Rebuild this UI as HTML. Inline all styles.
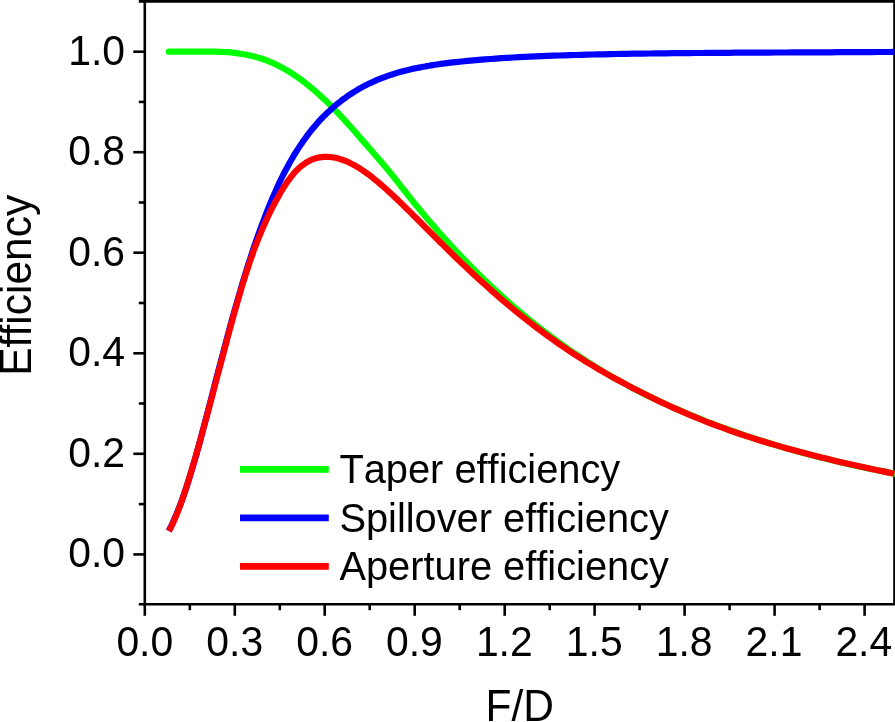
<!DOCTYPE html>
<html lang="en"><head><meta charset="utf-8"><title>Efficiency vs F/D</title>
<style>html,body{margin:0;padding:0;background:#fff;}body{width:895px;height:722px;overflow:hidden;}svg{display:block;}text{font-family:"Liberation Sans",sans-serif;fill:#000;}</style></head><body>
<svg width="895" height="722" viewBox="0 0 895 722">
<rect width="895" height="722" fill="#fff"/>
<g stroke="#000" stroke-width="2.6" fill="none">
<path d="M138.8,1.4 H894.5 V604.2 H138.8"/>
<path d="M144.8,1.4 V604.2" stroke-linecap="square"/>
<path d="M133.3,554.4 H144.8"/>
<path d="M138.8,504.1 H144.8"/>
<path d="M133.3,453.8 H144.8"/>
<path d="M138.8,403.5 H144.8"/>
<path d="M133.3,353.3 H144.8"/>
<path d="M138.8,303.0 H144.8"/>
<path d="M133.3,252.7 H144.8"/>
<path d="M138.8,202.5 H144.8"/>
<path d="M133.3,152.2 H144.8"/>
<path d="M138.8,101.9 H144.8"/>
<path d="M133.3,51.7 H144.8"/>
<path d="M144.8,604.2 V615.8"/>
<path d="M189.8,604.2 V610.2"/>
<path d="M234.8,604.2 V615.8"/>
<path d="M279.8,604.2 V610.2"/>
<path d="M324.7,604.2 V615.8"/>
<path d="M369.7,604.2 V610.2"/>
<path d="M414.7,604.2 V615.8"/>
<path d="M459.7,604.2 V610.2"/>
<path d="M504.7,604.2 V615.8"/>
<path d="M549.7,604.2 V610.2"/>
<path d="M594.6,604.2 V615.8"/>
<path d="M639.6,604.2 V610.2"/>
<path d="M684.6,604.2 V615.8"/>
<path d="M729.6,604.2 V610.2"/>
<path d="M774.6,604.2 V615.8"/>
<path d="M819.6,604.2 V610.2"/>
<path d="M864.6,604.2 V615.8"/>
</g>
<g fill="none" stroke-width="6.2" stroke-linejoin="round">
<path stroke="#00ff00" stroke-linecap="round" d="M168.8,51.7 L170.8,51.7 L172.8,51.7 L174.7,51.7 L176.7,51.7 L178.7,51.7 L180.7,51.7 L182.7,51.7 L184.7,51.7 L186.7,51.7 L188.6,51.7 L190.6,51.7 L192.6,51.7 L194.6,51.7 L196.6,51.7 L198.6,51.7 L200.6,51.7 L202.5,51.7 L204.5,51.7 L206.5,51.7 L208.5,51.7 L210.5,51.7 L212.5,51.7 L214.4,51.7 L216.4,51.7 L218.4,51.8 L220.4,51.8 L222.4,51.9 L224.4,52.0 L226.4,52.1 L228.3,52.2 L230.3,52.4 L232.3,52.6 L234.3,52.8 L236.3,53.1 L238.3,53.4 L240.3,53.7 L242.2,54.0 L244.2,54.3 L246.2,54.7 L248.2,55.1 L250.2,55.5 L252.2,56.0 L254.1,56.5 L256.1,57.0 L258.1,57.6 L260.1,58.2 L262.1,58.8 L264.1,59.5 L266.1,60.2 L268.0,61.0 L270.0,61.8 L272.0,62.6 L274.0,63.5 L276.0,64.4 L278.0,65.4 L279.9,66.4 L281.9,67.5 L283.9,68.6 L285.9,69.7 L287.9,70.9 L289.9,72.1 L291.9,73.4 L293.8,74.7 L295.8,76.0 L297.8,77.4 L299.8,78.8 L301.8,80.3 L303.8,81.8 L305.8,83.3 L307.7,84.9 L309.7,86.5 L311.7,88.1 L313.7,89.8 L315.7,91.5 L317.7,93.3 L319.6,95.0 L321.6,96.9 L323.6,98.7 L325.6,100.6 L327.6,102.5 L329.6,104.4 L331.6,106.4 L333.5,108.4 L335.5,110.5 L337.5,112.5 L339.5,114.6 L341.5,116.8 L343.5,118.9 L345.5,121.1 L347.4,123.3 L349.4,125.5 L351.4,127.7 L353.4,130.0 L355.4,132.2 L357.4,134.5 L359.3,136.8 L361.3,139.1 L363.3,141.3 L365.3,143.6 L367.3,145.9 L369.3,148.2 L371.3,150.4 L373.2,152.7 L375.2,155.0 L377.2,157.3 L379.2,159.6 L381.2,161.9 L383.2,164.2 L385.2,166.5 L387.1,168.9 L389.1,171.3 L391.1,173.7 L393.1,176.2 L395.1,178.7 L397.1,181.2 L399.0,183.7 L401.0,186.3 L403.0,188.8 L405.0,191.3 L407.0,193.9 L409.0,196.4 L411.0,198.9 L412.9,201.3 L414.9,203.8 L416.9,206.2 L418.9,208.6 L420.9,211.0 L422.9,213.4 L424.9,215.8 L426.8,218.2 L428.8,220.5 L430.8,222.8 L432.8,225.1 L434.8,227.4 L436.8,229.7 L438.7,232.0 L440.7,234.2 L442.7,236.4 L444.7,238.7 L450.4,244.9 L456.1,251.1 L461.8,257.1 L467.5,263.0 L473.2,268.7 L478.9,274.4 L484.6,279.9 L490.3,285.4 L495.9,290.7 L501.6,295.9 L507.3,301.0 L513.0,306.0 L518.7,310.8 L524.4,315.6 L530.1,320.3 L535.8,324.9 L541.5,329.4 L547.2,333.7 L552.9,338.0 L558.6,342.2 L564.3,346.3 L570.0,350.3 L575.7,354.1 L581.4,357.9 L587.1,361.6 L592.8,365.2 L598.4,368.7 L604.1,372.1 L609.8,375.4 L615.5,378.7 L621.2,381.8 L626.9,384.9 L632.6,387.9 L638.3,390.9 L644.0,393.8 L649.7,396.6 L655.4,399.3 L661.1,402.0 L666.8,404.6 L672.5,407.2 L678.2,409.7 L683.9,412.2 L689.6,414.6 L695.2,416.9 L700.9,419.2 L706.6,421.5 L712.3,423.7 L718.0,425.8 L723.7,427.9 L729.4,430.0 L735.1,432.0 L740.8,434.0 L746.5,435.9 L752.2,437.8 L757.9,439.6 L763.6,441.4 L769.3,443.2 L775.0,444.9 L780.7,446.6 L786.4,448.2 L792.1,449.8 L797.7,451.4 L803.4,453.0 L809.1,454.5 L814.8,456.0 L820.5,457.4 L826.2,458.8 L831.9,460.2 L837.6,461.6 L843.3,462.9 L849.0,464.2 L854.7,465.5 L860.4,466.7 L866.1,467.9 L871.8,469.1 L877.5,470.2 L883.2,471.4 L888.9,472.5 L894.5,473.6"/>
<path stroke="#0000ff" d="M168.8,531.0 L170.8,527.0 L172.8,522.7 L174.7,518.3 L176.7,513.7 L178.7,508.7 L180.7,503.5 L182.7,498.1 L184.7,492.4 L186.7,486.4 L188.6,480.3 L190.6,473.9 L192.6,467.3 L194.6,460.5 L196.6,453.6 L198.6,446.4 L200.6,439.1 L202.5,431.7 L204.5,424.2 L206.5,416.6 L208.5,409.0 L210.5,401.3 L212.5,393.6 L214.4,385.9 L216.4,378.3 L218.4,370.6 L220.4,363.0 L222.4,355.5 L224.4,348.0 L226.4,340.5 L228.3,333.2 L230.3,325.9 L232.3,318.6 L234.3,311.5 L236.3,304.5 L238.3,297.6 L240.3,290.8 L242.2,284.1 L244.2,277.6 L246.2,271.1 L248.2,264.8 L250.2,258.6 L252.2,252.6 L254.1,246.7 L256.1,240.9 L258.1,235.2 L260.1,229.7 L262.1,224.3 L264.1,219.1 L266.1,213.9 L268.0,208.9 L270.0,204.1 L272.0,199.3 L274.0,194.7 L276.0,190.2 L278.0,185.9 L279.9,181.6 L281.9,177.5 L283.9,173.5 L285.9,169.7 L287.9,166.0 L289.9,162.3 L291.9,158.9 L293.8,155.5 L295.8,152.3 L297.8,149.1 L299.8,146.1 L301.8,143.2 L303.8,140.3 L305.8,137.6 L307.7,134.9 L309.7,132.3 L311.7,129.8 L313.7,127.4 L315.7,125.1 L317.7,122.8 L319.6,120.6 L321.6,118.5 L323.6,116.4 L325.6,114.5 L327.6,112.5 L329.6,110.7 L331.6,108.8 L333.5,107.1 L335.5,105.4 L337.5,103.7 L339.5,102.2 L341.5,100.6 L343.5,99.1 L345.5,97.7 L347.4,96.3 L349.4,94.9 L351.4,93.6 L353.4,92.3 L355.4,91.1 L357.4,89.9 L359.3,88.7 L361.3,87.6 L363.3,86.5 L365.3,85.5 L367.3,84.5 L369.3,83.5 L371.3,82.6 L373.2,81.7 L375.2,80.8 L377.2,79.9 L379.2,79.1 L381.2,78.3 L383.2,77.6 L385.2,76.8 L387.1,76.1 L389.1,75.4 L391.1,74.8 L393.1,74.1 L395.1,73.5 L397.1,72.9 L399.0,72.3 L401.0,71.8 L403.0,71.2 L405.0,70.7 L407.0,70.2 L409.0,69.8 L411.0,69.3 L412.9,68.8 L414.9,68.4 L416.9,68.0 L418.9,67.6 L420.9,67.2 L422.9,66.8 L424.9,66.5 L426.8,66.1 L428.8,65.8 L430.8,65.4 L432.8,65.1 L434.8,64.8 L436.8,64.5 L438.7,64.2 L440.7,63.9 L442.7,63.7 L444.7,63.4 L450.4,62.7 L456.1,62.1 L461.8,61.5 L467.5,60.9 L473.2,60.4 L478.9,59.9 L484.6,59.4 L490.3,59.0 L495.9,58.6 L501.6,58.2 L507.3,57.9 L513.0,57.5 L518.7,57.2 L524.4,56.9 L530.1,56.6 L535.8,56.4 L541.5,56.1 L547.2,55.9 L552.9,55.7 L558.6,55.5 L564.3,55.3 L570.0,55.1 L575.7,55.0 L581.4,54.8 L587.1,54.6 L592.8,54.5 L598.4,54.4 L604.1,54.3 L609.8,54.1 L615.5,54.0 L621.2,53.9 L626.9,53.8 L632.6,53.7 L638.3,53.6 L644.0,53.6 L649.7,53.5 L655.4,53.4 L661.1,53.4 L666.8,53.3 L672.5,53.2 L678.2,53.2 L683.9,53.1 L689.6,53.1 L695.2,53.0 L700.9,53.0 L706.6,52.9 L712.3,52.9 L718.0,52.8 L723.7,52.8 L729.4,52.8 L735.1,52.7 L740.8,52.7 L746.5,52.7 L752.2,52.6 L757.9,52.6 L763.6,52.6 L769.3,52.6 L775.0,52.5 L780.7,52.5 L786.4,52.5 L792.1,52.4 L797.7,52.4 L803.4,52.4 L809.1,52.4 L814.8,52.3 L820.5,52.3 L826.2,52.3 L831.9,52.3 L837.6,52.2 L843.3,52.2 L849.0,52.2 L854.7,52.1 L860.4,52.1 L866.1,52.1 L871.8,52.1 L877.5,52.0 L883.2,52.0 L888.9,52.0 L894.5,51.9"/>
<path stroke="#ff0000" d="M168.8,531.0 L170.8,527.4 L172.8,523.4 L174.7,519.0 L176.7,514.3 L178.7,509.2 L180.7,503.8 L182.7,498.2 L184.7,492.3 L186.7,486.2 L188.6,479.9 L190.6,473.5 L192.6,466.9 L194.6,460.1 L196.6,453.2 L198.6,446.2 L200.6,439.0 L202.5,431.8 L204.5,424.5 L206.5,417.2 L208.5,409.7 L210.5,402.3 L212.5,394.7 L214.4,387.2 L216.4,379.7 L218.4,372.1 L220.4,364.6 L222.4,357.1 L224.4,349.6 L226.4,342.2 L228.3,334.7 L230.3,327.4 L232.3,320.1 L234.3,312.9 L236.3,305.8 L238.3,298.9 L240.3,292.1 L242.2,285.5 L244.2,279.0 L246.2,272.8 L248.2,266.7 L250.2,260.8 L252.2,255.1 L254.1,249.6 L256.1,244.3 L258.1,239.3 L260.1,234.3 L262.1,229.6 L264.1,225.0 L266.1,220.6 L268.0,216.4 L270.0,212.3 L272.0,208.3 L274.0,204.5 L276.0,200.8 L278.0,197.2 L279.9,193.7 L281.9,190.3 L283.9,187.1 L285.9,184.0 L287.9,181.1 L289.9,178.4 L291.9,175.8 L293.8,173.4 L295.8,171.2 L297.8,169.2 L299.8,167.3 L301.8,165.7 L303.8,164.2 L305.8,162.8 L307.7,161.7 L309.7,160.6 L311.7,159.7 L313.7,158.9 L315.7,158.3 L317.7,157.8 L319.6,157.4 L321.6,157.1 L323.6,156.9 L325.6,156.8 L327.6,156.9 L329.6,157.0 L331.6,157.2 L333.5,157.5 L335.5,157.8 L337.5,158.3 L339.5,158.9 L341.5,159.5 L343.5,160.2 L345.5,160.9 L347.4,161.8 L349.4,162.7 L351.4,163.7 L353.4,164.7 L355.4,165.8 L357.4,167.0 L359.3,168.2 L361.3,169.5 L363.3,170.8 L365.3,172.2 L367.3,173.6 L369.3,175.1 L371.3,176.6 L373.2,178.2 L375.2,179.8 L377.2,181.4 L379.2,183.1 L381.2,184.8 L383.2,186.5 L385.2,188.3 L387.1,190.1 L389.1,191.9 L391.1,193.7 L393.1,195.6 L395.1,197.4 L397.1,199.3 L399.0,201.2 L401.0,203.1 L403.0,205.1 L405.0,207.0 L407.0,209.0 L409.0,210.9 L411.0,212.9 L412.9,214.9 L414.9,216.8 L416.9,218.8 L418.9,220.8 L420.9,222.8 L422.9,224.8 L424.9,226.8 L426.8,228.8 L428.8,230.8 L430.8,232.8 L432.8,234.8 L434.8,236.7 L436.8,238.7 L438.7,240.7 L440.7,242.7 L442.7,244.6 L444.7,246.6 L450.4,252.2 L456.1,257.7 L461.8,263.2 L467.5,268.6 L473.2,273.9 L478.9,279.2 L484.6,284.3 L490.3,289.4 L495.9,294.4 L501.6,299.4 L507.3,304.2 L513.0,309.0 L518.7,313.6 L524.4,318.2 L530.1,322.6 L535.8,327.0 L541.5,331.3 L547.2,335.5 L552.9,339.6 L558.6,343.6 L564.3,347.5 L570.0,351.3 L575.7,355.1 L581.4,358.7 L587.1,362.3 L592.8,365.7 L598.4,369.1 L604.1,372.4 L609.8,375.6 L615.5,378.8 L621.2,381.8 L626.9,384.9 L632.6,387.9 L638.3,390.8 L644.0,393.7 L649.7,396.6 L655.4,399.4 L661.1,402.1 L666.8,404.8 L672.5,407.4 L678.2,409.9 L683.9,412.4 L689.6,414.8 L695.2,417.2 L700.9,419.5 L706.6,421.8 L712.3,424.0 L718.0,426.1 L723.7,428.2 L729.4,430.3 L735.1,432.3 L740.8,434.2 L746.5,436.1 L752.2,437.9 L757.9,439.7 L763.6,441.5 L769.3,443.2 L775.0,444.9 L780.7,446.6 L786.4,448.2 L792.1,449.8 L797.7,451.3 L803.4,452.8 L809.1,454.3 L814.8,455.8 L820.5,457.2 L826.2,458.6 L831.9,460.0 L837.6,461.4 L843.3,462.7 L849.0,464.0 L854.7,465.3 L860.4,466.5 L866.1,467.8 L871.8,469.0 L877.5,470.2 L883.2,471.4 L888.9,472.6 L894.5,473.7"/>
</g>
<g font-size="40.5">
<text transform="translate(125.1,567.1) scale(1.01,1.04)" text-anchor="end">0.0</text>
<text transform="translate(125.1,466.6) scale(1.01,1.04)" text-anchor="end">0.2</text>
<text transform="translate(125.1,366.1) scale(1.01,1.04)" text-anchor="end">0.4</text>
<text transform="translate(125.1,265.5) scale(1.01,1.04)" text-anchor="end">0.6</text>
<text transform="translate(125.1,165.0) scale(1.01,1.04)" text-anchor="end">0.8</text>
<text transform="translate(125.1,64.5) scale(1.01,1.04)" text-anchor="end">1.0</text>
<text transform="translate(144.8,655.9) scale(1.01,1.04)" text-anchor="middle">0.0</text>
<text transform="translate(234.7,655.9) scale(1.01,1.04)" text-anchor="middle">0.3</text>
<text transform="translate(324.6,655.9) scale(1.01,1.04)" text-anchor="middle">0.6</text>
<text transform="translate(414.4,655.9) scale(1.01,1.04)" text-anchor="middle">0.9</text>
<text transform="translate(504.3,655.9) scale(1.01,1.04)" text-anchor="middle">1.2</text>
<text transform="translate(594.2,655.9) scale(1.01,1.04)" text-anchor="middle">1.5</text>
<text transform="translate(684.1,655.9) scale(1.01,1.04)" text-anchor="middle">1.8</text>
<text transform="translate(774.0,655.9) scale(1.01,1.04)" text-anchor="middle">2.1</text>
<text transform="translate(863.8,655.9) scale(1.01,1.04)" text-anchor="middle">2.4</text>
</g>
<text font-size="42.5" text-anchor="middle" transform="translate(30.8,285.3) rotate(-90) scale(1,1.045)">Efficiency</text>
<text font-size="42.5" text-anchor="middle" transform="translate(519.8,721.2) scale(1,1.045)">F/D</text>
<g stroke-width="6.8" fill="none">
<path stroke="#00ff00" d="M240,469.4 H328.8"/>
<path stroke="#0000ff" d="M240,517.9 H328.8"/>
<path stroke="#ff0000" d="M240,566.4 H328.8"/>
</g>
<g font-size="39.8" style="font-kerning:none">
<text transform="translate(339.4,483.2) scale(1,1.04)">Taper efficiency</text>
<text transform="translate(339.4,531.8) scale(1,1.04)">Spillover efficiency</text>
<text transform="translate(339.4,580.3) scale(1,1.04)">Aperture efficiency</text>
</g>
</svg></body></html>
